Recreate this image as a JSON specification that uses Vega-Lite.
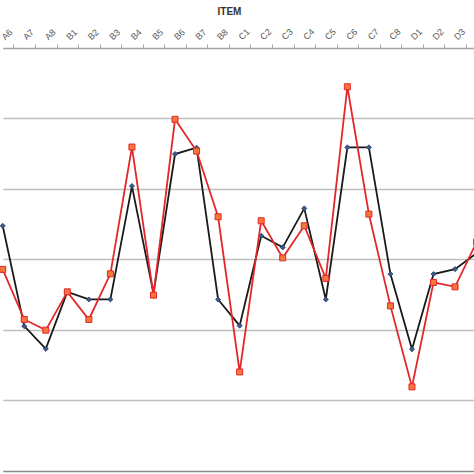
{
  "$schema": "https://vega.github.io/schema/vega-lite/v6.json",
  "width": 474,
  "height": 426,
  "autosize": "none",
  "padding": {"top": 48, "left": 0, "right": 0, "bottom": 0},
  "background": "white",
  "config": {"view": {"stroke": null}},
  "data": {
    "values": [
      {"item": "A6", "series": "Series 1", "value": 3.476},
      {"item": "A7", "series": "Series 1", "value": 2.051},
      {"item": "A8", "series": "Series 1", "value": 1.729},
      {"item": "B1", "series": "Series 1", "value": 2.538},
      {"item": "B2", "series": "Series 1", "value": 2.43},
      {"item": "B3", "series": "Series 1", "value": 2.43},
      {"item": "B4", "series": "Series 1", "value": 4.04},
      {"item": "B5", "series": "Series 1", "value": 2.516},
      {"item": "B6", "series": "Series 1", "value": 4.494},
      {"item": "B7", "series": "Series 1", "value": 4.584},
      {"item": "B8", "series": "Series 1", "value": 2.43},
      {"item": "C1", "series": "Series 1", "value": 2.058},
      {"item": "C2", "series": "Series 1", "value": 3.334},
      {"item": "C3", "series": "Series 1", "value": 3.169},
      {"item": "C4", "series": "Series 1", "value": 3.723},
      {"item": "C5", "series": "Series 1", "value": 2.43},
      {"item": "C6", "series": "Series 1", "value": 4.589},
      {"item": "C7", "series": "Series 1", "value": 4.589},
      {"item": "C8", "series": "Series 1", "value": 2.79},
      {"item": "D1", "series": "Series 1", "value": 1.724},
      {"item": "D2", "series": "Series 1", "value": 2.79},
      {"item": "D3", "series": "Series 1", "value": 2.861},
      {"item": "D4", "series": "Series 1", "value": 3.088},
      {"item": "A6", "series": "Series 2", "value": 2.857},
      {"item": "A7", "series": "Series 2", "value": 2.146},
      {"item": "A8", "series": "Series 2", "value": 1.994},
      {"item": "B1", "series": "Series 2", "value": 2.538},
      {"item": "B2", "series": "Series 2", "value": 2.146},
      {"item": "B3", "series": "Series 2", "value": 2.794},
      {"item": "B4", "series": "Series 2", "value": 4.594},
      {"item": "B5", "series": "Series 2", "value": 2.491},
      {"item": "B6", "series": "Series 2", "value": 4.987},
      {"item": "B7", "series": "Series 2", "value": 4.537},
      {"item": "B8", "series": "Series 2", "value": 3.604},
      {"item": "C1", "series": "Series 2", "value": 1.401},
      {"item": "C2", "series": "Series 2", "value": 3.547},
      {"item": "C3", "series": "Series 2", "value": 3.021},
      {"item": "C4", "series": "Series 2", "value": 3.476},
      {"item": "C5", "series": "Series 2", "value": 2.729},
      {"item": "C6", "series": "Series 2", "value": 5.45},
      {"item": "C7", "series": "Series 2", "value": 3.642},
      {"item": "C8", "series": "Series 2", "value": 2.339},
      {"item": "D1", "series": "Series 2", "value": 1.189},
      {"item": "D2", "series": "Series 2", "value": 2.672},
      {"item": "D3", "series": "Series 2", "value": 2.609},
      {"item": "D4", "series": "Series 2", "value": 3.244}
    ]
  },
  "encoding": {
    "x": {
      "field": "item",
      "type": "ordinal",
      "sort": null,
      "scale": {
        "type": "point",
        "padding": 0,
        "domain": ["A6","A7","A8","B1","B2","B3","B4","B5","B6","B7","B8","C1","C2","C3","C4","C5","C6","C7","C8","D1","D2","D3","D4"],
        "range": [2.7, 476.6]
      },
      "axis": {
        "orient": "top",
        "title": "ITEM",
        "titleX": 229,
        "titleY": -37,
        "titleAlign": "center",
        "titleBaseline": "middle",
        "titleAngle": 0,
        "titleFont": "Liberation Sans",
        "titleFontSize": 10,
        "titleFontWeight": "bold",
        "titleColor": "#333333",
        "labelFont": "Liberation Sans",
        "labelFontSize": 9,
        "labelColor": "#595959",
        "labelAngle": -45,
        "labelAlign": "left",
        "labelBaseline": "middle",
        "labelPadding": 6,
        "labelOffset": -10.77,
        "labelExpr": "datum.label === 'D4' ? '' : datum.label",
        "tickOffset": 10.77,
        "tickSize": 4,
        "tickColor": "#a6a6a6",
        "domainColor": "#a6a6a6",
        "domainWidth": 1.3,
        "grid": false,
        "labelOverlap": false
      }
    },
    "y": {
      "field": "value",
      "type": "quantitative",
      "scale": {"domain": [-0.048, 6], "nice": false, "zero": false},
      "axis": {
        "title": null,
        "labels": false,
        "ticks": false,
        "domain": false,
        "grid": true,
        "values": [0, 1, 2, 3, 4, 5],
        "gridColor": {"condition": {"test": "datum.value === 0", "value": "#8c8c8c"}, "value": "#bfbfbf"},
        "gridWidth": 1.4
      }
    }
  },
  "layer": [
    {
      "transform": [{"filter": "datum.series === 'Series 1'"}],
      "mark": {"type": "line", "color": "#1a1a1a", "strokeWidth": 1.8}
    },
    {
      "transform": [{"filter": "datum.series === 'Series 1'"}],
      "mark": {"type": "point", "shape": "diamond", "filled": true, "fill": "#3d5a8c", "stroke": "#243b63", "strokeWidth": 0.8, "size": 26, "opacity": 1}
    },
    {
      "transform": [{"filter": "datum.series === 'Series 2'"}],
      "mark": {"type": "line", "color": "#e3262a", "strokeWidth": 1.8}
    },
    {
      "transform": [{"filter": "datum.series === 'Series 2'"}],
      "mark": {"type": "point", "shape": "square", "filled": true, "fill": "#f5773a", "stroke": "#e3262a", "strokeWidth": 1, "size": 36, "opacity": 1}
    }
  ]
}
